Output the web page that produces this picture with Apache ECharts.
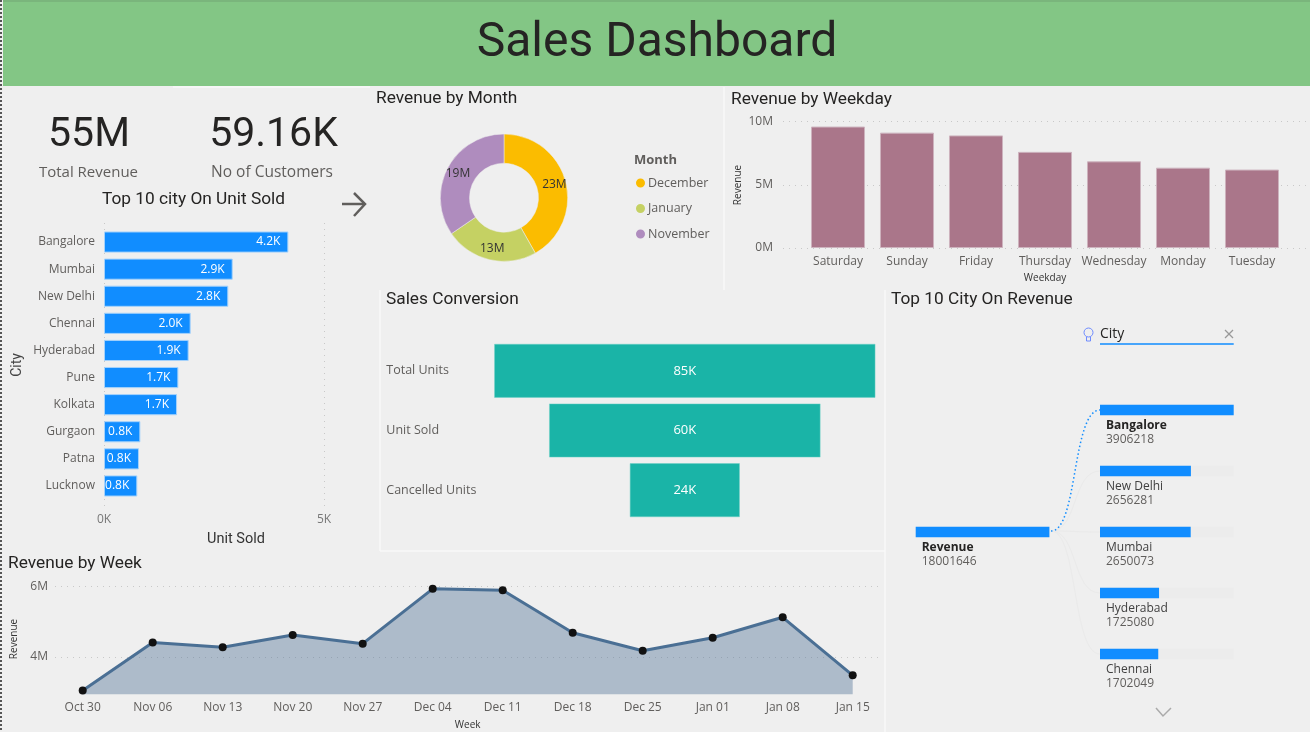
<!DOCTYPE html>
<html><head><meta charset="utf-8">
<style>html,body{margin:0;padding:0;background:#EFEFEF}#c{width:1310px;height:732px}</style>
<script src="https://cdn.jsdelivr.net/npm/echarts@6/dist/echarts.min.js"></script>
</head><body><div id="c"></div>
<script>
const unitCities=['Bangalore','Mumbai','New Delhi','Chennai','Hyderabad','Pune','Kolkata','Gurgaon','Patna','Lucknow'];
const unitSold=[4190,2925,2825,1970,1924,1690,1660,826,795,757];
const months=['December','January','November'];
const monthRevenue=[23,13,19];
const weekdays=['Saturday','Sunday','Friday','Thursday','Wednesday','Monday','Tuesday'];
const weekdayRevenue=[9.6e6,9.12e6,8.9e6,7.6e6,6.85e6,6.35e6,6.2e6];
const funnelStages=['Total Units','Unit Sold','Cancelled Units'];
const funnelUnits=[85,60.5,24.5];
const funnelLabels=['85K','60K','24K'];
const weeks=['Oct 30','Nov 06','Nov 13','Nov 20','Nov 27','Dec 04','Dec 11','Dec 18','Dec 25','Jan 01','Jan 08','Jan 15'];
const weekRevenue=[3.05e6,4.41e6,4.28e6,4.625e6,4.38e6,5.94e6,5.90e6,4.69e6,4.18e6,4.55e6,5.13e6,3.48e6];
const treeCities=['Bangalore','New Delhi','Mumbai','Hyderabad','Chennai'];
const treeRevenue=[3906218,2656281,2650073,1725080,1702049];
const treeRoot=['Revenue'];
const treeRootValue=[18001646];

const DIN='Roboto', UI='"Open Sans"';
const dark='#252423', grey='#605E5C', blue='#118DFF';
const dotted={show:true,lineStyle:{type:[1,5],color:'#C8C8C8',width:1}};
const noLine={axisLine:{show:false},axisTick:{show:false},splitLine:{show:false}};
const hid=(o)=>Object.assign({show:false},o);
const titleAt=(text,left,top)=>({text,left,top,padding:0,textStyle:{fontFamily:DIN,fontWeight:400,fontSize:17.3,color:dark}});
const centerText=(text,x,y,size,color,font)=>({type:'text',x,y,style:{text,fontFamily:font||UI,fontSize:size,fill:color||grey,align:'center',verticalAlign:'middle'}});
const faint=(x1,y1,x2,y2)=>({type:'line',shape:{x1,y1,x2,y2},style:{stroke:'#F8F8F8',lineWidth:1.5}});
const curve=(y2,stroke,dash,w)=>({type:'bezierCurve',shape:{x1:1051,y1:531,cpx1:1078,cpy1:531,cpx2:1072,cpy2:y2,x2:1100,y2},style:{stroke,fill:'none',lineWidth:w,lineDash:dash}});

const option={
 backgroundColor:'#EFEFEF',animation:false,
 title:[
  titleAt('Revenue by Month',376,90.5),
  titleAt('Revenue by Weekday',731,91.5),
  titleAt('Top 10 city On Unit Sold',102,191.5),
  titleAt('Sales Conversion',386,291.5),
  titleAt('Top 10 City On Revenue',891,291.5),
  titleAt('Revenue by Week',8,555.5)
 ],
 grid:[
  {left:104,top:228.5,width:220,height:271},
  {left:104,top:223,width:220,height:285},
  {left:783,top:121.5,width:524,height:126.5},
  {left:803.5,top:121.5,width:483,height:126.5},
  {left:494.3,top:341,width:381,height:179},
  {left:55,top:586.7,width:823,height:107.6},
  {left:82.7,top:586.7,width:770,height:107.6},
  {left:1100,top:379.5,width:133.7,height:305},
  {left:915.7,top:526.5,width:133.7,height:11}
 ],
 xAxis:[
  hid({gridIndex:0,type:'value',min:0,max:5000}),
  {gridIndex:1,type:'value',min:0,max:5000,interval:5000,...noLine,splitLine:dotted,
   axisLabel:{formatter:v=>v/1000+'K',fontFamily:UI,fontSize:12,color:'#777',margin:6}},
  hid({gridIndex:2,type:'value',min:0,max:1}),
  {gridIndex:3,type:'category',data:weekdays,...noLine,name:'Weekday',nameLocation:'middle',nameGap:25,
   nameTextStyle:{fontFamily:UI,fontSize:10,color:'#333'},
   axisLabel:{fontFamily:UI,fontSize:12,color:grey,margin:8,interval:0}},
  hid({gridIndex:4,type:'value',min:0,max:85}),
  hid({gridIndex:5,type:'value',min:0,max:1}),
  {gridIndex:6,type:'category',data:weeks,boundaryGap:false,...noLine,name:'Week',nameLocation:'middle',nameGap:26,
   nameTextStyle:{fontFamily:UI,fontSize:10,color:'#333'},
   axisLabel:{fontFamily:UI,fontSize:12,color:grey,margin:7,interval:0}},
  hid({gridIndex:7,type:'value',min:0,max:treeRevenue[0]}),
  hid({gridIndex:8,type:'value',min:0,max:treeRootValue[0]})
 ],
 yAxis:[
  {gridIndex:0,type:'category',inverse:true,data:unitCities,...noLine,
   axisLabel:{fontFamily:UI,fontSize:12,color:grey,margin:9,interval:0,padding:[2,0,0,0]}},
  hid({gridIndex:1,type:'value',min:0,max:1}),
  {gridIndex:2,type:'value',min:0,max:1e7,interval:5e6,...noLine,splitLine:dotted,
   axisLabel:{formatter:v=>v/1e6+'M',fontFamily:UI,fontSize:12,color:grey,margin:10,padding:[2,0,0,0]}},
  hid({gridIndex:3,type:'value',min:0,max:1e7}),
  {gridIndex:4,type:'category',inverse:true,data:funnelStages,...noLine,
   axisLabel:{fontFamily:UI,fontSize:12.5,color:grey,align:'left',margin:108,interval:0,padding:[2,0,0,0]}},
  {gridIndex:5,type:'value',min:2.94e6,max:6e6,...noLine,splitLine:dotted,
   axisTick:{show:false,customValues:[4e6,6e6]},
   axisLabel:{customValues:[4e6,6e6],formatter:v=>v/1e6+'M',fontFamily:UI,fontSize:12,color:grey,margin:7,padding:[2,0,0,0]}},
  hid({gridIndex:6,type:'value',min:2.94e6,max:6e6}),
  hid({gridIndex:7,type:'category',inverse:true,data:treeCities}),
  hid({gridIndex:8,type:'category',data:treeRoot})
 ],
 legend:{orient:'vertical',left:634,top:176.5,padding:0,data:months,icon:'circle',itemWidth:11,itemHeight:11,itemGap:12.5,
  textStyle:{fontFamily:UI,fontSize:12.5,color:grey,padding:[0,0,0,-3]}},
 series:[
  {type:'bar',xAxisIndex:0,yAxisIndex:0,data:unitSold,barCategoryGap:'22%',
   itemStyle:{color:blue,borderColor:'#A5D2FB',borderWidth:1},
   label:{show:true,position:'insideRight',distance:8,formatter:p=>(p.value/1000).toFixed(1)+'K',fontFamily:UI,fontSize:12,color:'#fff'}},
  {type:'pie',center:[504,197.7],radius:[34.5,63.7],startAngle:90,data:months.map((name,i)=>({name,value:monthRevenue[i]})),
   color:['#FBBC00','#C5D163','#AF8CBE'],itemStyle:{borderColor:'#EFEFEF',borderWidth:0.5},
   label:{show:true,position:'inside',formatter:p=>p.value+'M',fontFamily:UI,fontSize:12,color:'#333'},labelLine:{show:false}},
  {type:'bar',xAxisIndex:3,yAxisIndex:3,data:weekdayRevenue,barCategoryGap:'21.7%',
   itemStyle:{color:'#AA768A',borderColor:'#CDB3BE',borderWidth:1}},
  {type:'bar',xAxisIndex:4,yAxisIndex:4,stack:'f',silent:true,barCategoryGap:'10%',
   data:funnelUnits.map(v=>(funnelUnits[0]-v)/2),itemStyle:{color:'transparent'}},
  {type:'bar',xAxisIndex:4,yAxisIndex:4,stack:'f',data:funnelUnits,
   itemStyle:{color:'#1AB4A7',borderColor:'#6FD0C7',borderWidth:0.5},
   label:{show:true,position:'inside',formatter:p=>funnelLabels[p.dataIndex],fontFamily:UI,fontSize:13,color:'#fff'}},
  {type:'line',xAxisIndex:6,yAxisIndex:6,data:weekRevenue,clip:false,symbol:'circle',symbolSize:8,
   lineStyle:{color:'#4A6F94',width:3},itemStyle:{color:'#111'},areaStyle:{color:'#4A6F94',opacity:0.4}},
  {type:'bar',xAxisIndex:7,yAxisIndex:7,data:treeRevenue,barWidth:10.5,showBackground:true,backgroundStyle:{color:'#ECECEC'},
   itemStyle:{color:blue},
   label:{show:true,position:[6,14],formatter:p=>'{'+(p.dataIndex===0?'b':'n')+'|'+p.name+'}\n{v|'+p.value+'}',
    rich:{b:{fontFamily:UI,fontSize:12,fontWeight:700,color:dark,lineHeight:14},n:{fontFamily:UI,fontSize:12,color:'#404040',lineHeight:14},v:{fontFamily:UI,fontSize:12,color:grey,lineHeight:14}}}},
  {type:'bar',xAxisIndex:8,yAxisIndex:8,data:treeRootValue,barWidth:10.5,itemStyle:{color:blue},
   label:{show:true,position:[6,14],formatter:p=>'{b|'+p.name+'}\n{v|'+p.value+'}',
    rich:{b:{fontFamily:UI,fontSize:12,fontWeight:700,color:dark,lineHeight:14},v:{fontFamily:UI,fontSize:12,color:grey,lineHeight:14}}}}
 ],
 graphic:{elements:[
  {type:'rect',shape:{x:3,y:0,width:1307,height:86},style:{fill:'#83C685'},z:-1},
  {type:'rect',shape:{x:3,y:0,width:1307,height:2},style:{fill:'#7AB57C'},z:-1},
  {type:'line',shape:{x1:1,y1:0,x2:1,y2:732},style:{stroke:'#555',lineWidth:2,lineDash:[2,2]}},
  faint(173,87,370,87),faint(380,290,380,551),faint(380,551,885,551),faint(885,290,885,732),faint(724,87,724,290),
  centerText('Sales Dashboard',657,44,48,dark,DIN),
  centerText('55M',89,136,41,dark,DIN),
  centerText('59.16K',273.5,136,41,dark,DIN),
  centerText('Total Revenue',88.5,172.5,15,grey),
  centerText('No of Customers',272,172.5,15.5,grey),
  {type:'text',x:17,y:365,rotation:Math.PI/2,style:{text:'City',fontFamily:DIN,fontSize:14,fill:'#444',align:'center',verticalAlign:'middle'}},
  centerText('Unit Sold',236,539.5,14.5,'#333',DIN),
  {type:'text',x:738,y:185,rotation:Math.PI/2,style:{text:'Revenue',fontFamily:UI,fontSize:10,fill:'#333',align:'center',verticalAlign:'middle'}},
  {type:'text',x:14,y:639,rotation:Math.PI/2,style:{text:'Revenue',fontFamily:UI,fontSize:10,fill:'#333',align:'center',verticalAlign:'middle'}},
  {type:'text',x:634,y:160,style:{text:'Month',fontFamily:UI,fontSize:13,fontWeight:700,fill:grey,verticalAlign:'middle'}},
  {type:'polyline',shape:{points:[[342,204],[365,204]]},style:{stroke:'#605E5C',lineWidth:2.5,fill:'none'}},
  {type:'polyline',shape:{points:[[354,193],[365,204],[354,216]]},style:{stroke:'#605E5C',lineWidth:2.5,fill:'none'}},
  curve(471,'#EAEAEA',null,1),curve(532,'#EAEAEA',null,1),curve(593,'#EAEAEA',null,1),curve(654,'#EAEAEA',null,1),
  curve(410,blue,[1.5,2.5],1.5),
  {type:'text',x:1100,y:334,style:{text:'City',fontFamily:UI,fontSize:14,fill:dark,verticalAlign:'middle'}},
  {type:'line',shape:{x1:1100,y1:344,x2:1233.7,y2:344},style:{stroke:blue,lineWidth:1.6}},
  {type:'polyline',shape:{points:[[1225,330],[1233,338]]},style:{stroke:'#999',lineWidth:1.3,fill:'none'}},
  {type:'polyline',shape:{points:[[1233,330],[1225,338]]},style:{stroke:'#999',lineWidth:1.3,fill:'none'}},
  {type:'circle',shape:{cx:1088.5,cy:332.5,r:4.5},style:{stroke:'#6E8BFF',fill:'none',lineWidth:1}},
  {type:'polyline',shape:{points:[[1086.5,337],[1086.5,341],[1090.5,341],[1090.5,337]]},style:{stroke:'#6E8BFF',fill:'none',lineWidth:1}},
  {type:'polyline',shape:{points:[[1156,708],[1163,716],[1171,708]]},style:{stroke:'#AAA',fill:'none',lineWidth:1.5}}
 ]}
};
const chart=echarts.init(document.getElementById('c'),null,{renderer:'canvas'});
chart.setOption(option);
</script></body></html>
